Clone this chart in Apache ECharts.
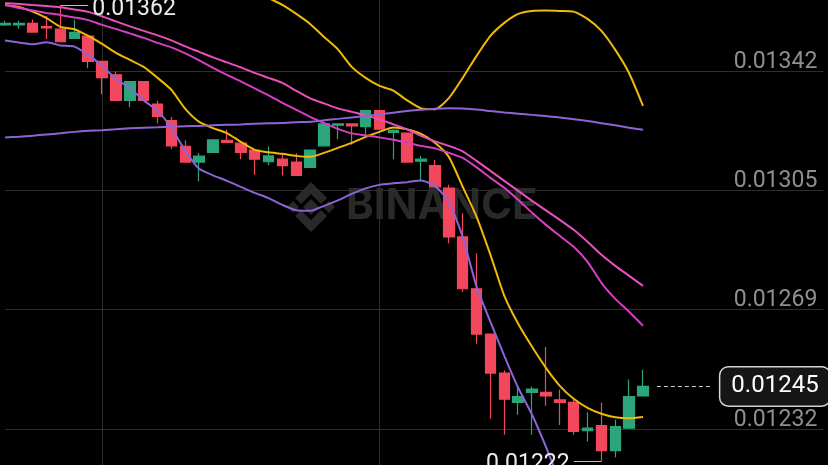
<!DOCTYPE html>
<html>
<head>
<meta charset="utf-8">
<script src="https://cdn.jsdelivr.net/npm/echarts@6/dist/echarts.min.js"></script>
<style>
  html, body { margin: 0; padding: 0; background: #000; overflow: hidden; width: 828px; height: 465px; }
  #main { position: absolute; left: 0; top: -48px; width: 828px; height: 596px; }
</style>
</head>
<body>
<div id="main"></div>
<script>
// candles: [open, close, low, high]
var candles = [
  [0.013560, 0.013565, 0.013557, 0.013573],
  [0.013560, 0.013565, 0.013548, 0.013573],
  [0.013565, 0.013538, 0.013538, 0.013576],
  [0.013555, 0.013551, 0.013517, 0.013588],
  [0.013547, 0.013509, 0.013509, 0.013620],
  [0.013519, 0.013537, 0.013519, 0.013576],
  [0.013526, 0.013448, 0.013427, 0.013526],
  [0.013448, 0.013398, 0.013347, 0.013448],
  [0.013407, 0.013328, 0.013328, 0.013417],
  [0.013328, 0.013386, 0.013307, 0.013386],
  [0.013386, 0.013328, 0.013328, 0.013386],
  [0.013317, 0.013279, 0.013258, 0.013327],
  [0.013266, 0.013189, 0.013179, 0.013277],
  [0.013187, 0.013139, 0.013139, 0.013206],
  [0.013139, 0.013157, 0.013079, 0.013167],
  [0.013169, 0.013207, 0.013169, 0.013207],
  [0.013206, 0.013199, 0.013199, 0.013238],
  [0.013197, 0.013169, 0.013148, 0.013197],
  [0.013176, 0.013148, 0.013100, 0.013176],
  [0.013140, 0.013158, 0.013129, 0.013187],
  [0.013148, 0.013128, 0.013098, 0.013166],
  [0.013139, 0.013098, 0.013098, 0.013166],
  [0.013123, 0.013176, 0.013123, 0.013176],
  [0.013189, 0.013256, 0.013189, 0.013256],
  [0.013252, 0.013256, 0.013209, 0.013256],
  [0.013256, 0.013250, 0.013192, 0.013256],
  [0.013248, 0.013297, 0.013219, 0.013297],
  [0.013297, 0.013240, 0.013240, 0.013297],
  [0.013230, 0.013236, 0.013148, 0.013240],
  [0.013228, 0.013139, 0.013139, 0.013228],
  [0.013142, 0.013148, 0.013084, 0.013158],
  [0.013128, 0.013063, 0.013060, 0.013146],
  [0.013059, 0.012909, 0.012890, 0.013069],
  [0.012909, 0.012750, 0.012740, 0.012982],
  [0.012750, 0.012611, 0.012581, 0.012859],
  [0.012611, 0.012491, 0.012351, 0.012611],
  [0.012491, 0.012411, 0.012302, 0.012499],
  [0.012401, 0.012419, 0.012363, 0.012448],
  [0.012432, 0.012442, 0.012302, 0.012450],
  [0.012432, 0.012421, 0.012391, 0.012571],
  [0.012409, 0.012401, 0.012332, 0.012440],
  [0.012401, 0.012312, 0.012302, 0.012411],
  [0.012314, 0.012322, 0.012281, 0.012371],
  [0.012330, 0.012253, 0.012220, 0.012401],
  [0.012253, 0.012327, 0.012233, 0.012348],
  [0.012322, 0.012419, 0.012322, 0.012471],
  [0.012421, 0.012450, 0.012421, 0.012501]
];

// boll middle (yellow)
var bollMid = [
  0.0136215, 0.0136154, 0.0136010, 0.0135807, 0.0135540, 0.0135470, 0.0135264, 0.0135018,
  0.0134742, 0.0134527, 0.0134312, 0.0133975, 0.0133606, 0.0133023, 0.0132624, 0.0132431,
  0.0132277, 0.0132010, 0.0131765, 0.0131688, 0.0131642, 0.0131580, 0.0131550, 0.0131673,
  0.0131826, 0.0131979, 0.0132164, 0.0132317, 0.0132449, 0.0132394, 0.0132256, 0.0131980,
  0.0131550, 0.0130629, 0.0129708, 0.0128542, 0.0127283, 0.0126424, 0.0125718, 0.0125073,
  0.0124520, 0.0124121, 0.0123845, 0.0123661, 0.0123553, 0.0123523, 0.0123560
];
// boll upper (yellow)
var bollUp = [
  null, null, null, null, null, null, null, null, null, null, null, null, null, null, null, null,
  null, 0.0137136, 0.0136737, 0.0136430, 0.0136215, 0.0135939, 0.0135632, 0.0135233,
  0.0134849, 0.0134312, 0.0133975, 0.0133729, 0.0133585, 0.0133284, 0.0133039, 0.0133014,
  0.0133352, 0.0133975, 0.0134650, 0.0135264, 0.0135663, 0.0135939, 0.0136031, 0.0136041,
  0.0136031, 0.0136010, 0.0135786, 0.0135417, 0.0134834, 0.0134119, 0.0133115
];
// boll lower (purple)
var bollDn = [
  0.0135120, 0.0135064, 0.0135009, 0.0135071, 0.0134972, 0.0134936, 0.0134681, 0.0134343,
  0.0133944, 0.0133659, 0.0133284, 0.0132962, 0.0132440, 0.0131734, 0.0131181, 0.0130982,
  0.0130813, 0.0130629, 0.0130445, 0.0130282, 0.0130076, 0.0129908, 0.0129892, 0.0130046,
  0.0130214, 0.0130414, 0.0130583, 0.0130690, 0.0130736, 0.0130773, 0.0130822, 0.0130660,
  0.0130168, 0.0129094, 0.0127559, 0.0126485, 0.0125441, 0.0124459, 0.0123630, 0.0122648,
  0.0121574, 0.0120653, null, null, null, null, null
];
// ma (pink)
var maPink = [
  0.0136268, 0.0136246, 0.0136215, 0.0136185, 0.0136145, 0.0136077, 0.0136001, 0.0135863,
  0.0135709, 0.0135556, 0.0135417, 0.0135279, 0.0135126, 0.0134942, 0.0134773, 0.0134604,
  0.0134451, 0.0134297, 0.0134128, 0.0133975, 0.0133821, 0.0133576, 0.0133345, 0.0133192,
  0.0133039, 0.0132931, 0.0132824, 0.0132701, 0.0132547, 0.0132394, 0.0132194, 0.0132026,
  0.0131887, 0.0131719, 0.0131427, 0.0131120, 0.0130813, 0.0130506, 0.0130199, 0.0129908,
  0.0129616, 0.0129309, 0.0128941, 0.0128542, 0.0128204, 0.0127897, 0.0127590
];
// ma (magenta)
var maMagenta = [
  0.0136215, 0.0136123, 0.0136041, 0.0135970, 0.0135909, 0.0135832, 0.0135749, 0.0135602,
  0.0135479, 0.0135341, 0.0135203, 0.0135049, 0.0134911, 0.0134727, 0.0134512, 0.0134282,
  0.0134067, 0.0133867, 0.0133652, 0.0133438, 0.0133207, 0.0132992, 0.0132778, 0.0132593,
  0.0132409, 0.0132271, 0.0132210, 0.0132148, 0.0132072, 0.0131980, 0.0131887, 0.0131811,
  0.0131673, 0.0131519, 0.0131227, 0.0130905, 0.0130598, 0.0130230, 0.0129831, 0.0129462,
  0.0129125, 0.0128787, 0.0128327, 0.0127682, 0.0127191, 0.0126792, 0.0126362
];
// ma (purple, long)
var maLong = [
  0.0132142, 0.0132170, 0.0132201, 0.0132237, 0.0132274, 0.0132317, 0.0132348, 0.0132369,
  0.0132394, 0.0132425, 0.0132446, 0.0132461, 0.0132477, 0.0132489, 0.0132501, 0.0132517,
  0.0132532, 0.0132547, 0.0132569, 0.0132581, 0.0132587, 0.0132612, 0.0132630, 0.0132673,
  0.0132716, 0.0132762, 0.0132802, 0.0132854, 0.0132907, 0.0132956, 0.0132999, 0.0133029,
  0.0133045, 0.0133035, 0.0133005, 0.0132956, 0.0132913, 0.0132876, 0.0132839, 0.0132802,
  0.0132762, 0.0132707, 0.0132649, 0.0132584, 0.0132517, 0.0132446, 0.0132379
];

var lastPrice = 0.01245;
var highPrice = 0.01362;
var lowPrice = 0.01222;
var highIndex = 4;
var lowIndex = 43;

// price axis: ticks 0.01232 / 0.01269 / 0.01305 / 0.01342 (outer ticks fall off screen)
var tickStep = 0.000366;
var yMin = 0.011954;
var yMax = 0.013784;

var padCount = 13;
var categories = [];
for (var i = 0; i < candles.length + padCount; i++) {
  categories.push(String(i));
}

var UP = '#2ca57a';
var DOWN = '#f2475d';
var YELLOW = '#f0b90b';
var PURPLE = '#8d64d8';
var WM = '#292929';
var dy = 48; // chart div is shifted up by 48px

function lineSeries(name, data, color) {
  return {
    name: name,
    type: 'line',
    data: data,
    symbol: 'none',
    smooth: 0.2,
    connectNulls: false,
    z: 3,
    lineStyle: { color: color, width: 2 },
    emphasis: { disabled: true }
  };
}

function pts(list) {
  return list.map(function (p) { return [p[0], p[1] + dy]; });
}

var chart = echarts.init(document.getElementById('main'));
chart.setOption({
  backgroundColor: '#000',
  animation: false,
  grid: { left: 5, right: 4.67, top: 0, bottom: 0, containLabel: false, outerBoundsMode: 'none' },
  xAxis: {
    type: 'category',
    data: categories,
    boundaryGap: false,
    axisLine: { show: false },
    axisTick: { show: false },
    axisLabel: { show: false },
    splitLine: {
      show: true,
      interval: function (index) { return index === 7 || index === 27; },
      lineStyle: { color: '#2e2e2e', width: 1 }
    }
  },
  yAxis: {
    type: 'value',
    position: 'right',
    min: yMin,
    max: yMax,
    interval: tickStep,
    axisLine: { show: false },
    axisTick: { show: false },
    axisLabel: {
      inside: true,
      margin: 6,
      showMinLabel: false,
      showMaxLabel: false,
      color: '#8f8f8f',
      fontSize: 23,
      lineHeight: 18,
      fontFamily: 'Roboto',
      verticalAlign: 'bottom',
      formatter: function (v) { return v.toFixed(5); }
    },
    splitLine: { show: true, lineStyle: { color: '#2e2e2e', width: 1 } }
  },
  graphic: [
    { type: 'polygon', z: 0, shape: { points: pts([[311, 199], [319, 207], [311, 215], [303, 207]]) }, style: { fill: WM } },
    { type: 'polygon', z: 0, shape: { points: pts([[293, 201], [299, 207], [293, 213], [287, 207]]) }, style: { fill: WM } },
    { type: 'polygon', z: 0, shape: { points: pts([[329, 201], [335, 207], [329, 213], [323, 207]]) }, style: { fill: WM } },
    { type: 'polygon', z: 0, shape: { points: pts([[311, 182], [327, 198], [321, 204], [311, 194], [301, 204], [295, 198]]) }, style: { fill: WM } },
    { type: 'polygon', z: 0, shape: { points: pts([[311, 232], [327, 216], [321, 210], [311, 220], [301, 210], [295, 216]]) }, style: { fill: WM } },
    {
      type: 'text', z: 0, left: 346, top: 185 + dy,
      style: { text: 'BINANCE', fill: WM, font: 'bold 42px Inter' }
    }
  ],
  series: [
    {
      name: 'kline',
      type: 'candlestick',
      data: candles,
      barWidth: 11,
      clip: false,
      z: 2,
      itemStyle: {
        color: UP,
        color0: DOWN,
        borderColor: UP,
        borderColor0: DOWN,
        borderWidth: 1.2
      },
      emphasis: { disabled: true },
      markLine: {
        silent: true,
        symbol: ['none', 'none'],
        animation: false,
        data: [
          [
            { coord: [highIndex, highPrice] },
            {
              coord: [highIndex + 2, highPrice],
              lineStyle: { color: '#bdbdbd', width: 1, type: 'solid' },
              label: { show: true, position: 'end', distance: 4, offset: [0, 4], formatter: highPrice.toFixed(5), color: '#ececec', fontSize: 23, fontFamily: 'Roboto' }
            }
          ],
          [
            { coord: [lowIndex, lowPrice] },
            {
              coord: [lowIndex - 2, lowPrice],
              lineStyle: { color: '#bdbdbd', width: 1, type: 'solid' },
              label: { show: true, position: 'end', distance: 4, offset: [0, 3], formatter: lowPrice.toFixed(5), color: '#ececec', fontSize: 23, fontFamily: 'Roboto' }
            }
          ],
          [
            { coord: [candles.length - 0.5, lastPrice] },
            {
              coord: [candles.length + 4, lastPrice],
              lineStyle: { color: '#cfcfcf', width: 1, type: [4, 3] },
              label: {
                show: true, position: 'end', distance: 8,
                formatter: lastPrice.toFixed(5),
                color: '#ffffff', fontSize: 24, fontFamily: 'Roboto',
                backgroundColor: '#161616', borderColor: '#d4d4d4', borderWidth: 1.5,
                borderRadius: 8, padding: [7, 11, 7, 11]
              }
            }
          ]
        ]
      }
    },
    lineSeries('BOLL UP', bollUp, YELLOW),
    lineSeries('BOLL MB', bollMid, YELLOW),
    lineSeries('BOLL DN', bollDn, PURPLE),
    lineSeries('MA', maPink, '#e84fbf'),
    lineSeries('MA2', maMagenta, '#d63fc4'),
    lineSeries('MA3', maLong, PURPLE)
  ]
});
</script>
</body>
</html>
